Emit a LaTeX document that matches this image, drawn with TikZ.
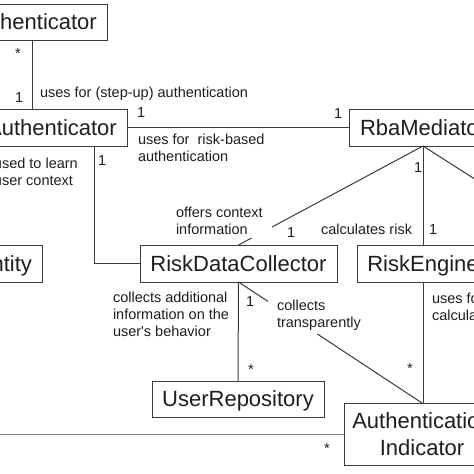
\documentclass[tikz,border=0pt]{standalone}
\usepackage{fontspec}
\setmainfont{Liberation Sans}
\definecolor{linec}{HTML}{3A3A3A}
\definecolor{greyline}{HTML}{858585}
\definecolor{txtc}{HTML}{1E1E1E}
\begin{document}
\begin{tikzpicture}[x=1pt,y=-1pt,
  cls/.style={draw=linec, line width=1pt, inner sep=0pt, outer sep=0pt,
    font=\fontsize{22}{27}\selectfont, text=txtc},
  one/.style={cls, text height=15.8pt, text depth=0pt, minimum height=37pt},
  lbl/.style={inner sep=0pt, outer sep=0pt, anchor=base west, align=left,
    font=\fontsize{14.5}{17}\selectfont, text=txtc},
  masked/.style={lbl, fill=white, inner xsep=9pt, inner ysep=4pt},
  assoc/.style={draw=linec, line width=1pt},
]
\useasboundingbox (0,0) rectangle (474,474);
\fill[white] (0,0) rectangle (474,474);
\clip (0,0) rectangle (474,474);

% classes
\node[one, minimum width=150pt, minimum height=36pt] (auth1) at (32,22) {Authenticator};
\node[one, minimum width=150pt] (auth2) at (52,127.5) {Authenticator};
\node[one, minimum width=148pt] (rba) at (423,127.5) {RbaMediator};
\node[one, minimum width=91pt] (ident) at (-3.5,263.5) {Identity};
\node[one, minimum width=197pt] (rdc) at (238.5,263.5) {RiskDataCollector};
\node[one, minimum width=132pt] (re) at (423,263.5) {RiskEngine};
\node[one, minimum width=172pt, minimum height=36pt] (ur) at (238,399) {UserRepository};
\node[cls, align=center, minimum width=156pt, minimum height=62pt] (ai) at (422,434) {Authentication\\Indicator};

% helper coordinates
\coordinate (a2x) at (94,0);
\coordinate (offright) at (550,227);
\coordinate (offleft) at (-60,434);

% associations
\draw[assoc] (auth1.south) -- (auth1.south |- auth2.north);
\draw[assoc] (auth2.east) -- (rba.west);
\draw[assoc] (auth2.south -| a2x) |- (rdc.west);
\draw[assoc] (rba.south) -- (rdc.north);
\draw[assoc] (rba.south) -- (re.north);
\draw[assoc] (rba.south) -- (offright);
\draw[assoc] (rdc.south) -- (ur.north);
\draw[assoc] (rdc.south) -- (ai.north);
\draw[assoc] (re.south) -- (re.south |- ai.north);
\draw[draw=greyline, line width=1pt] (offleft) -- (ai.west);

% labels and multiplicities (multi-line labels are placed by their last baseline)
\node[lbl] (m1) at (15,58) {*};
\node[lbl] (m2) at (15,102) {1};
\node[lbl] (t1) at (40,97) {uses for (step-up) authentication};
\node[lbl] (m3) at (137,117) {1};
\node[lbl] (m4) at (334,118) {1};
\node[lbl] (t2) at (138,161) {uses for\ \ risk-based\\authentication};
\node[lbl] (m5) at (98,165) {1};
\node[lbl] (t3) at (-6,185) {used to learn\\user context};
\node[masked] (t4) at (167,234) {offers context\\information};
\node[lbl] (m6) at (287,237) {1};
\node[lbl] (t5) at (321,234) {calculates risk};
\node[lbl] (m7) at (414,172) {1};
\node[lbl] (m8) at (429,234) {1};
\node[lbl] (t6) at (113,336) {collects additional\\information on the\\user\textquotesingle s behavior};
\node[lbl] (m9) at (246,306) {1};
\node[masked] (t7) at (268,327) {collects\\transparently};
\node[lbl] (m10) at (248,374) {*};
\node[lbl] (m11) at (407,373) {*};
\node[lbl] (t8) at (432,320) {uses for\\calculation};
\node[lbl] (m12) at (324,453) {*};
\end{tikzpicture}
\end{document}
